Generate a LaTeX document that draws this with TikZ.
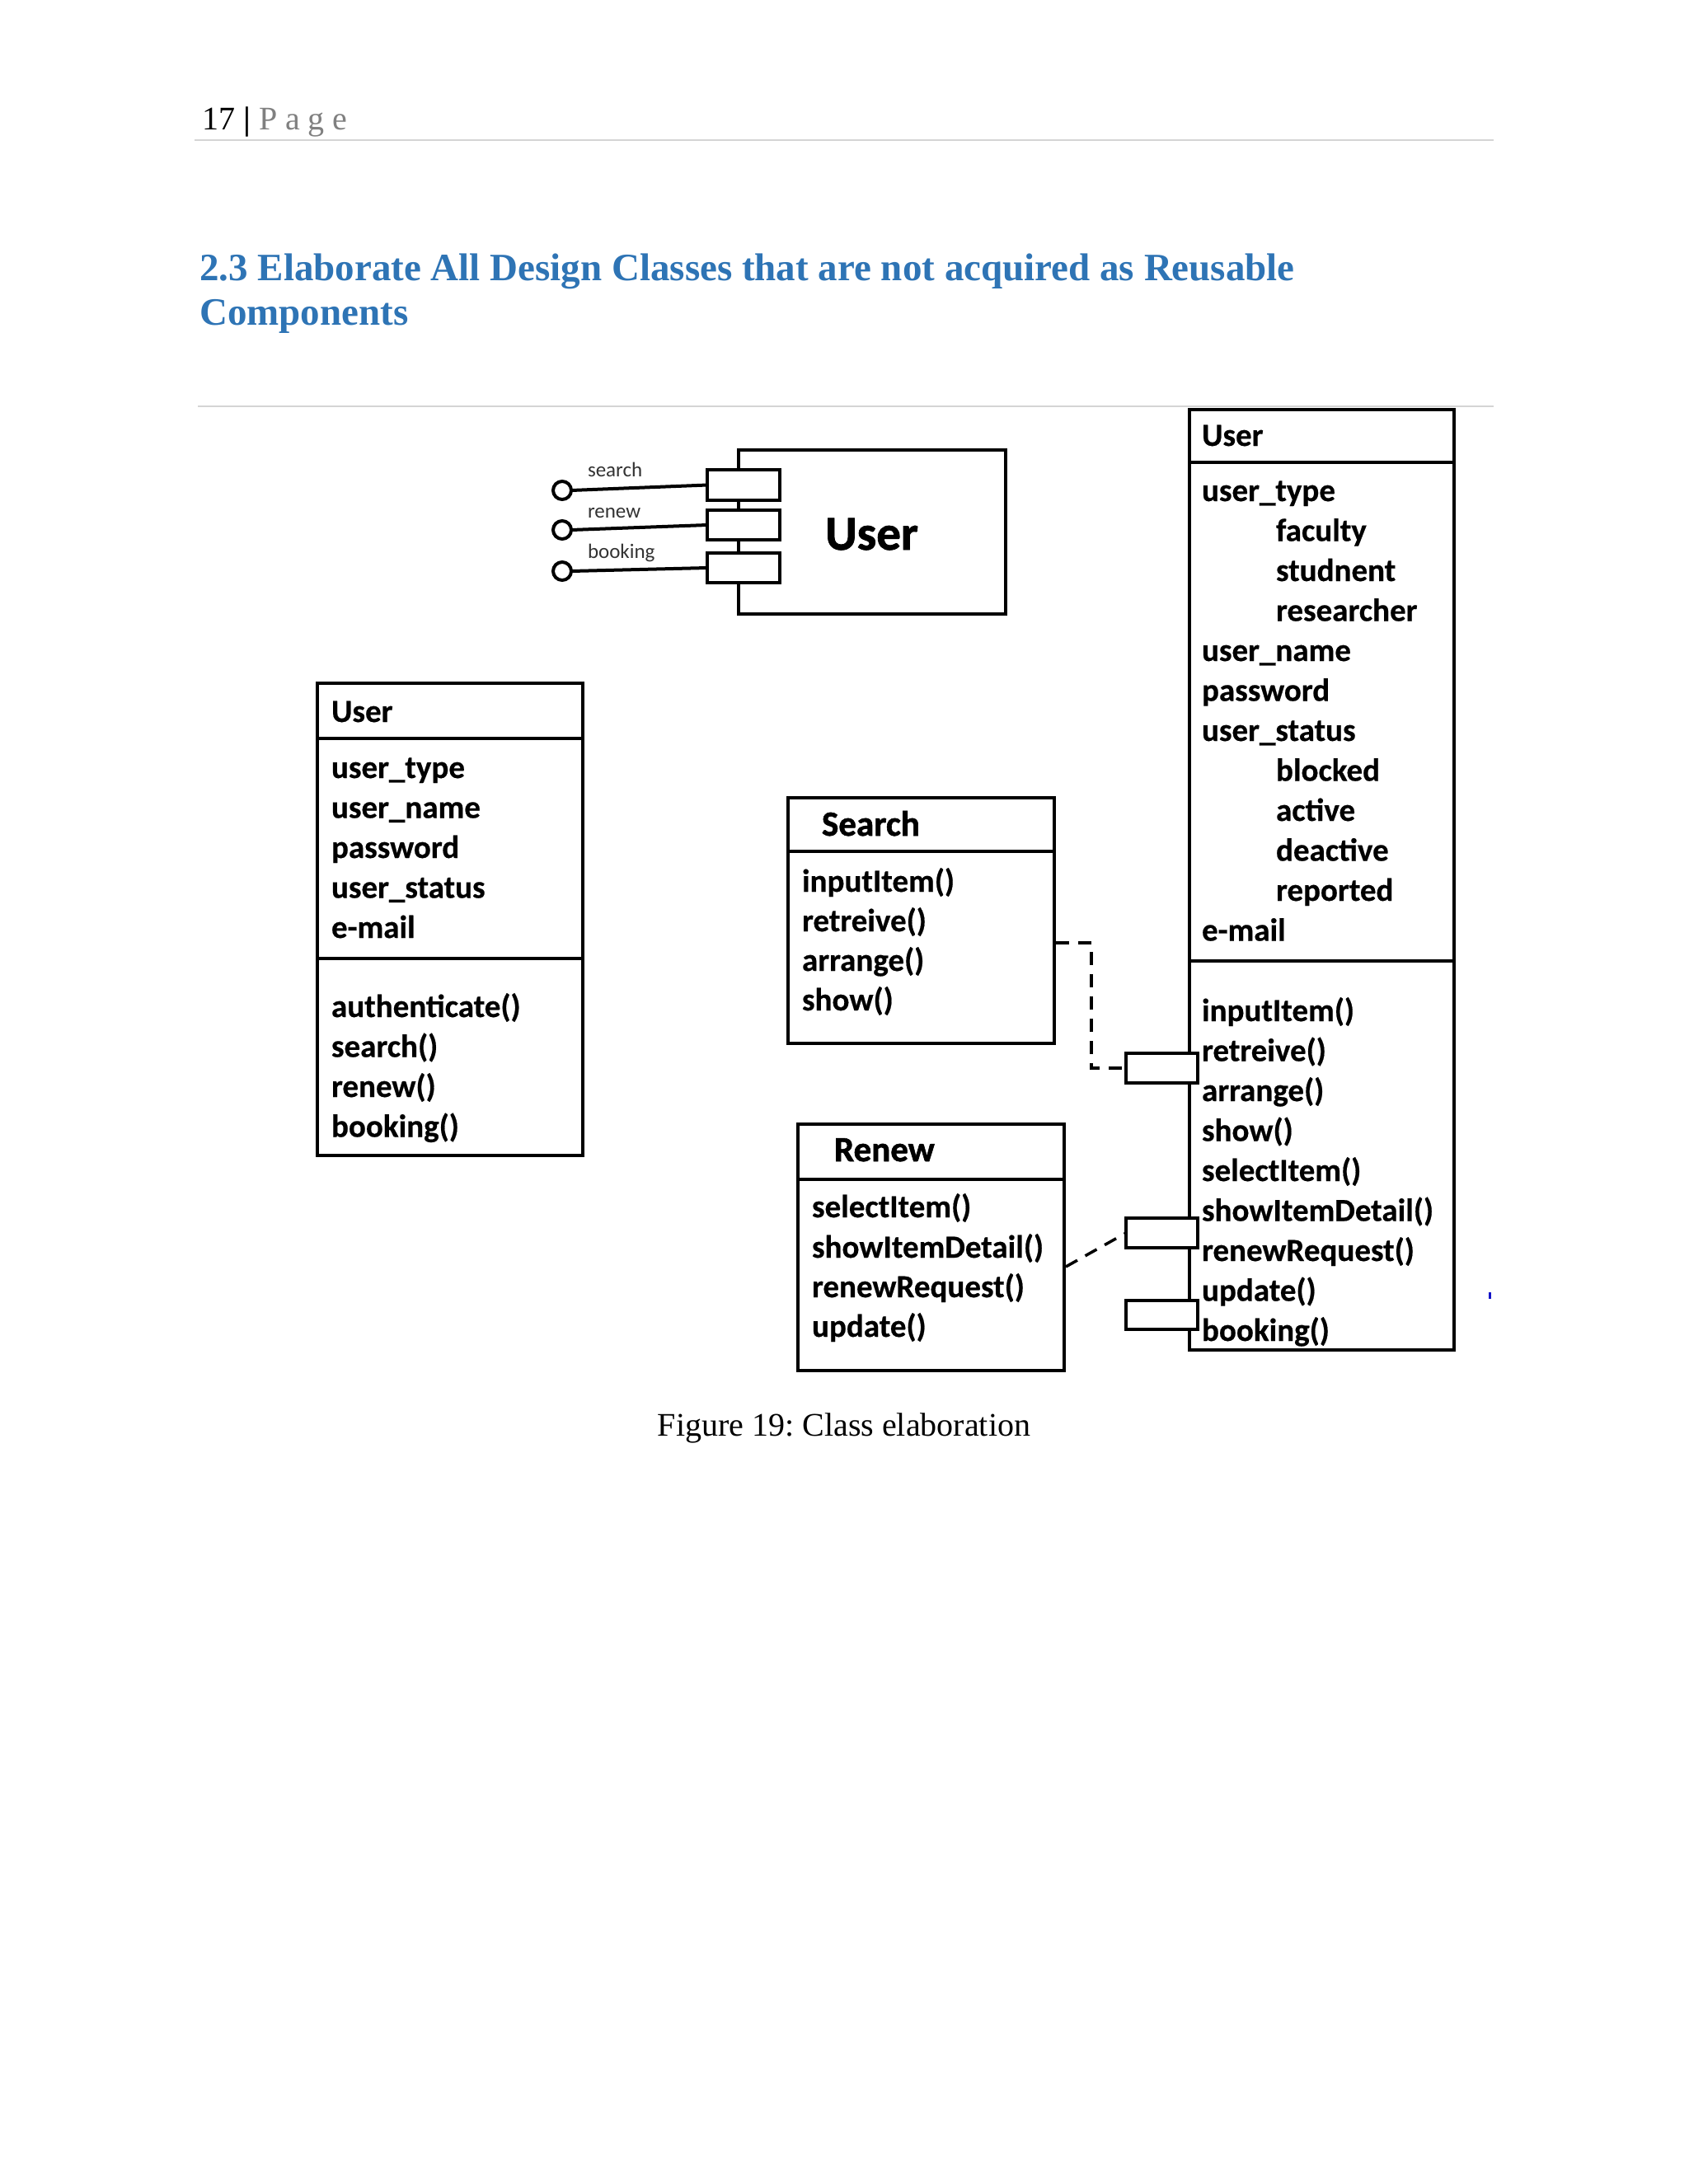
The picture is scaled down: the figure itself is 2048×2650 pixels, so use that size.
\documentclass[tikz,border=0pt]{standalone}
\usepackage{fontspec}
\setmainfont{Liberation Serif}
\newfontfamily\calfont{Carlito}[BoldFeatures={FakeBold=0.5}]
\newfontfamily\calheavy{Carlito}[BoldFeatures={FakeBold=1.3}]
\definecolor{headblue}{RGB}{46,116,181}
\definecolor{pagegray}{RGB}{128,128,128}
\definecolor{linegray}{RGB}{212,212,212}
\definecolor{dotblue}{RGB}{20,20,200}
\frenchspacing
\begin{document}
\begin{tikzpicture}[x=1pt,y=-1pt,
  box/.style={draw, line width=4.5pt, inner sep=0pt, outer sep=0pt, anchor=north west, fill=white},
  port/.style={draw, line width=4pt, inner sep=0pt, outer sep=0pt, anchor=north west, fill=white},
  lolly/.style={circle, draw, line width=4pt, minimum size=22pt, inner sep=0pt, outer sep=0pt, fill=white},
  sep/.style={line width=4.5pt},
  txt/.style={anchor=base west, inner sep=0pt, outer sep=0pt, font=\calfont\bfseries\fontsize{39}{47}\selectfont},
  ttl/.style={anchor=base west, inner sep=0pt, outer sep=0pt, font=\calheavy\bfseries\fontsize{43}{50}\selectfont},
  lbl/.style={anchor=base west, inner sep=0pt, outer sep=0pt, text=black!80, font=\calfont\fontsize{25}{30}\selectfont},
  depline/.style={line width=3.5pt, dash pattern=on 16pt off 11pt}
]
\fill[white] (0,0) rectangle (2048,2650);
\useasboundingbox (0,0) rectangle (2048,2650);

% page header
\node[anchor=base west, inner sep=0pt, font=\fontsize{40}{48}\selectfont] (pgnum) at (245,157) {17 \textbf{|} \textcolor{pagegray}{P a g e}};
\draw[linegray, line width=2.5pt] (236,170) -- (1812,170);

% heading
\node[anchor=base west, inner sep=0pt, text=headblue, font=\bfseries\fontsize{47}{54}\selectfont] (h1) at (242,340) {2.3 Elaborate All Design Classes that are not acquired as Reusable};
\node[anchor=base west, inner sep=0pt, text=headblue, font=\bfseries\fontsize{47}{54}\selectfont] (h2) at (242,394) {Components};
\draw[linegray, line width=2pt] (240,493) -- (1812,493);

% component User
\node[box, line width=4pt, minimum width=324pt, minimum height=199pt] (comp) at (896,546) {};
\node[anchor=base west, inner sep=0pt, font=\calheavy\bfseries\fontsize{59}{70}\selectfont] (compname) at (1001,667) {User};
\node[port, minimum width=88pt, minimum height=37pt] (p1) at (858,570) {};
\node[port, minimum width=88pt, minimum height=36pt] (p2) at (858,619) {};
\node[port, minimum width=88pt, minimum height=36pt] (p3) at (858,671) {};
\node[lolly] (l1) at (682,595) {};
\node[lolly] (l2) at (682,643) {};
\node[lolly] (l3) at (682,693) {};
\draw[line width=4pt] (l1.east) -- (p1.west);
\draw[line width=4pt] (l2.east) -- (p2.west);
\draw[line width=4pt] (l3.east) -- (p3.west);
\node[lbl] (t1) at (713,578) {search};
\node[lbl] (t2) at (713,628) {renew};
\node[lbl] (t3) at (713,677) {booking};

% left User class
\node[box, minimum width=322pt, minimum height=573pt] (ubox) at (385,829) {};
\draw[sep] (385,896) -- (707,896);
\draw[sep] (385,1163) -- (707,1163);
\node[txt] (u0) at (402,876) {User};
\node[txt] (u1) at (402,944) {user\_type};
\node[txt] (u2) at (402,992.5) {user\_name};
\node[txt] (u3) at (402,1041) {password};
\node[txt] (u4) at (402,1089.5) {user\_status};
\node[txt] (u5) at (402,1138) {e-mail};
\node[txt] (u6) at (402,1234) {authenticate()};
\node[txt] (u7) at (402,1282.5) {search()};
\node[txt] (u8) at (402,1331) {renew()};
\node[txt] (u9) at (402,1379.5) {booking()};

% Search class
\node[box, minimum width=323pt, minimum height=298pt] (sbox) at (956,968) {};
\draw[sep] (956,1033) -- (1279,1033);
\node[ttl] (s0) at (997,1014) {Search};
\node[txt] (s1) at (973,1082) {inputItem()};
\node[txt] (s2) at (973,1130) {retreive()};
\node[txt] (s3) at (973,1178) {arrange()};
\node[txt] (s4) at (973,1226) {show()};

% Renew class
\node[box, minimum width=323pt, minimum height=299pt] (rbox) at (968,1364) {};
\draw[sep] (968,1431) -- (1291,1431);
\node[ttl] (r0) at (1012,1409) {Renew};
\node[txt] (r1) at (985,1477) {selectItem()};
\node[txt] (r2) at (985,1526) {showItemDetail()};
\node[txt] (r3) at (985,1574) {renewRequest()};
\node[txt] (r4) at (985,1622) {update()};

% right User class
\node[box, minimum width=321pt, minimum height=1141pt] (ubig) at (1443,497) {};
\draw[sep] (1443,561) -- (1764,561);
\draw[sep] (1443,1166) -- (1764,1166);
\node[txt] (b0) at (1458,541) {User};
\node[txt] (b1) at (1458,608) {user\_type};
\node[txt] (b2) at (1548,656.5) {faculty};
\node[txt] (b3) at (1548,705) {studnent};
\node[txt] (b4) at (1548,753.5) {researcher};
\node[txt] (b5) at (1458,802) {user\_name};
\node[txt] (b6) at (1458,850.5) {password};
\node[txt] (b7) at (1458,899) {user\_status};
\node[txt] (b8) at (1548,947.5) {blocked};
\node[txt] (b9) at (1548,996) {active};
\node[txt] (b10) at (1548,1044.5) {deactive};
\node[txt] (b11) at (1548,1093) {reported};
\node[txt] (b12) at (1458,1141.5) {e-mail};
\node[txt] (m1) at (1458,1239) {inputItem()};
\node[txt] (m2) at (1458,1287.5) {retreive()};
\node[txt] (m3) at (1458,1336) {arrange()};
\node[txt] (m4) at (1458,1384.5) {show()};
\node[txt] (m5) at (1458,1433) {selectItem()};
\node[txt] (m6) at (1458,1481.5) {showItemDetail()};
\node[txt] (m7) at (1458,1530) {renewRequest()};
\node[txt] (m8) at (1458,1578.5) {update()};
\node[txt] (m9) at (1458,1627) {booking()};

% ports on right User class
\node[port, minimum width=87pt, minimum height=36pt] (rp1) at (1366,1278) {};
\node[port, minimum width=87pt, minimum height=36pt] (rp2) at (1366,1478) {};
\node[port, minimum width=87pt, minimum height=35pt] (rp3) at (1366,1578) {};

% dependencies
\coordinate (sout) at (1281,1144);
\coordinate (scorner) at (1324,1144);
\coordinate (rout) at (1293,1537);
\draw[depline] (sout) -- (scorner) |- (rp1.west);
\draw[depline] (rout) -- (rp2.west);

% small blue mark
\fill[dotblue] (1806,1568) rectangle (1809,1576);

% caption
\node[anchor=base, inner sep=0pt, font=\fontsize{40}{48}\selectfont] (cap) at (1024,1742) {Figure 19: Class elaboration};
\end{tikzpicture}
\end{document}
